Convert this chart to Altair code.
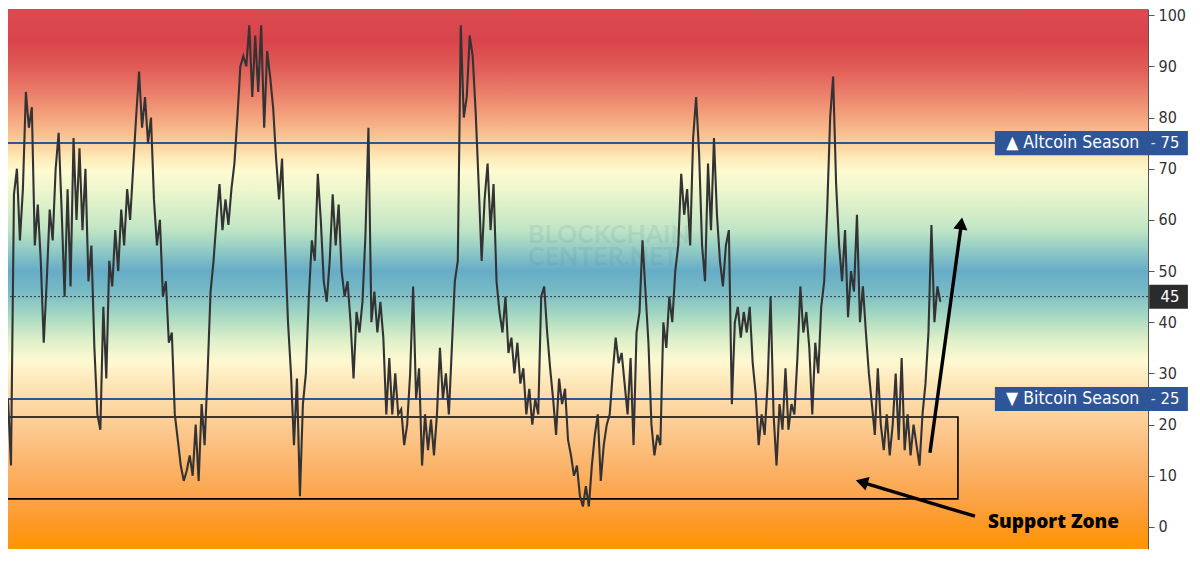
import altair as alt
import pandas as pd

# Altcoin season index readings (sampled left to right)
index_values = [
    25, 12, 65, 70, 56, 66, 85, 78, 82, 55, 63, 52, 36, 48, 62, 56, 70, 77, 62, 45,
    66, 47, 76, 60, 74, 58, 70, 48, 55, 35, 22, 19, 43, 29, 52, 47, 58, 50, 62, 55,
    66, 60, 70, 80, 89, 78, 84, 75, 80, 64, 55, 60, 45, 48, 36, 38, 22, 17, 12, 9,
    11, 14, 10, 20, 9, 24, 16, 30, 46, 52, 60, 67, 58, 64, 59, 66, 71, 80, 90, 92,
    90, 98, 84, 96, 85, 98, 78, 93, 88, 82, 72, 64, 72, 55, 40, 30, 16, 29, 6, 24,
    30, 45, 56, 52, 69, 60, 48, 44, 52, 65, 55, 63, 50, 45, 48, 40, 29, 42, 38, 44,
    57, 78, 40, 46, 38, 44, 37, 22, 33, 22, 30, 22, 23, 16, 20, 30, 47, 25, 31, 12,
    22, 15, 21, 14, 22, 35, 25, 30, 22, 35, 48, 52, 98, 80, 84, 96, 92, 81, 67, 52,
    64, 71, 58, 67, 48, 42, 38, 45, 34, 37, 30, 36, 28, 31, 22, 27, 20, 25, 22, 45,
    47, 38, 31, 25, 18, 29, 24, 27, 17, 14, 10, 12, 6, 4, 8, 4, 12, 18, 22, 9,
    16, 20, 22, 30, 37, 32, 34, 28, 22, 33, 16, 38, 42, 56, 46, 36, 20, 14, 18, 16,
    40, 35, 45, 40, 50, 55, 69, 61, 66, 55, 76, 84, 73, 55, 48, 71, 58, 76, 61, 52,
    47, 55, 58, 24, 40, 43, 37, 42, 38, 43, 32, 26, 16, 22, 18, 28, 45, 22, 12, 24,
    19, 31, 19, 24, 22, 33, 47, 38, 42, 35, 22, 36, 30, 43, 48, 62, 80, 88, 67, 55,
    48, 58, 41, 50, 46, 61, 40, 47, 38, 30, 24, 18, 31, 20, 15, 22, 14, 20, 30, 17,
    33, 15, 22, 14, 20, 16, 12, 22, 28, 38, 59, 40, 47, 44,
]
day_index = list(range(len(index_values)))

# axis ticks and reference levels
tick_values = [0, 10, 20, 30, 40, 50, 60, 70, 80, 90, 100]
season_levels = [75, 25]
season_labels = ["▲ Altcoin Season", "▼ Bitcoin Season"]
current_level = [45]

X_MAX = 382.7
Y_MIN, Y_MAX = -4.3, 101.2
W, H = 1140, 540
FONT = "DejaVu Sans Condensed, DejaVu Sans"

xs = alt.Scale(domain=[0, X_MAX], nice=False, zero=False)
ys = alt.Scale(domain=[Y_MIN, Y_MAX], nice=False, zero=False)


def off(v):
    return round((Y_MAX - v) / (Y_MAX - Y_MIN), 4)


grad_stops = [
    (Y_MAX, "#da4b51"), (95, "#d9444b"), (90, "#e05b56"), (85, "#ea7d69"),
    (80, "#f4a57e"), (76, "#f9c795"), (72, "#fdebb8"), (69.5, "#fefbd2"),
    (64, "#e4f3ca"), (58, "#bfe5c5"), (54, "#90cac5"), (50, "#66acc7"),
    (46, "#78bbc5"), (41, "#a9dac2"), (36.5, "#def0c9"), (32.5, "#fef9d2"),
    (27, "#fde2b2"), (20, "#fccc93"), (12, "#fbb46b"), (5, "#fca245"),
    (0, "#fd9820"), (Y_MIN, "#ff9500"),
]
gradient = alt.Gradient(
    gradient="linear",
    stops=[alt.GradientStop(color=c, offset=off(v)) for v, c in grad_stops],
    x1=0, x2=0, y1=0, y2=1,
)

bg = alt.Chart(pd.DataFrame({"x1": [0], "x2": [X_MAX], "y1": [Y_MAX], "y2": [Y_MIN]})).mark_rect(
    fill=gradient
).encode(
    x=alt.X("x1:Q", scale=xs, axis=None), x2="x2:Q",
    y=alt.Y("y1:Q", scale=ys), y2="y2:Q",
)

series = pd.DataFrame({"i": day_index, "v": index_values})

y_axis = alt.Axis(
    orient="right", values=tick_values, title=None, grid=False,
    tickSize=6, tickColor="#555555", domainColor="#555555",
    labelFont=FONT, labelFontSize=16, labelColor="#333333", labelPadding=4,
)

season_df = pd.DataFrame({"v": season_levels})
season_rules = alt.Chart(season_df).mark_rule(color="#2e5597", strokeWidth=2).encode(
    y=alt.Y("v:Q", scale=ys, axis=y_axis)
)
dotted = alt.Chart(pd.DataFrame({"v": current_level})).mark_rule(
    color="#333333", strokeWidth=1, strokeDash=[2, 2]
).encode(y=alt.Y("v:Q", scale=ys))

zone = alt.Chart(pd.DataFrame({"x1": [-2], "x2": [318.9], "y1": [21.5], "y2": [5.5]})).mark_rect(
    fillOpacity=0, stroke="black", strokeWidth=1.6, clip=True
).encode(
    x=alt.X("x1:Q", scale=xs), x2="x2:Q",
    y=alt.Y("y1:Q", scale=ys), y2="y2:Q",
)

line = alt.Chart(series).mark_line(
    color="#333333", strokeWidth=2.1, clip=True
).encode(x=alt.X("i:Q", scale=xs), y=alt.Y("v:Q", scale=ys))

watermark = alt.Chart(pd.DataFrame({"x": [174.6, 174.6], "y": [57.0, 52.8], "t": ["BLOCKCHAIN", "CENTER.NET"]})).mark_text(
    align="left", baseline="middle", font="Lato", fontWeight="bold", fontSize=25,
    color="#5a7d86", opacity=0.12
).encode(x=alt.X("x:Q", scale=xs), y=alt.Y("y:Q", scale=ys), text="t:N")

arrows = alt.Chart(pd.DataFrame({
    "x1": [309.5, 324.6], "y1": [14.5, 2.1], "x2": [319.9, 287.3], "y2": [58.6, 8.6]
})).mark_rule(color="black", strokeWidth=3.4).encode(
    x=alt.X("x1:Q", scale=xs), y=alt.Y("y1:Q", scale=ys), x2="x2:Q", y2="y2:Q"
)
head1 = alt.Chart(pd.DataFrame({"x": [320.0], "y": [59.3]})).mark_point(
    shape="triangle-up", filled=True, size=200, color="black", opacity=1, angle=7.8
).encode(x=alt.X("x:Q", scale=xs), y=alt.Y("y:Q", scale=ys))
head2 = alt.Chart(pd.DataFrame({"x": [286.6], "y": [8.8]})).mark_point(
    shape="triangle-up", filled=True, size=200, color="black", opacity=1, angle=286.7
).encode(x=alt.X("x:Q", scale=xs), y=alt.Y("y:Q", scale=ys))

support_text = alt.Chart(pd.DataFrame({"x": [351.0], "y": [1.0], "t": ["Support Zone"]})).mark_text(
    align="center", baseline="middle", font="Open Sans", fontWeight=800, fontSize=19, color="black"
).encode(x=alt.X("x:Q", scale=xs), y=alt.Y("y:Q", scale=ys), text="t:N")

boxes = alt.Chart(pd.DataFrame({
    "x1": [331.3, 331.3, 383.1], "x2": [396.1, 396.1, 396.1],
    "y1": [77.35, 27.35, 47.35], "y2": [72.65, 22.65, 42.65],
    "c": ["#2e5597", "#2e5597", "#2b2b2b"],
})).mark_rect().encode(
    x=alt.X("x1:Q", scale=xs), x2="x2:Q", y=alt.Y("y1:Q", scale=ys), y2="y2:Q",
    color=alt.Color("c:N", scale=None),
)

box_names = alt.Chart(pd.DataFrame({"x": [379.8, 379.8], "y": season_levels, "t": season_labels})).mark_text(
    align="right", baseline="middle", font=FONT, fontSize=17.5, color="white"
).encode(x=alt.X("x:Q", scale=xs), y=alt.Y("y:Q", scale=ys), text="t:N")

box_dash = alt.Chart(pd.DataFrame({"x": [384.4, 384.4], "y": season_levels, "t": ["-", "-"]})).mark_text(
    align="center", baseline="middle", font=FONT, fontSize=15, color="#dde4f0"
).encode(x=alt.X("x:Q", scale=xs), y=alt.Y("y:Q", scale=ys), text="t:N")

box_nums = alt.Chart(pd.DataFrame({
    "x": [386.9, 386.9, 386.9], "y": season_levels + current_level,
    "t": [str(v) for v in season_levels + current_level],
})).mark_text(
    align="left", baseline="middle", font=FONT, fontSize=16.5, color="white"
).encode(x=alt.X("x:Q", scale=xs), y=alt.Y("y:Q", scale=ys), text="t:N")

chart = alt.layer(
    bg, season_rules, dotted, zone, watermark, line, arrows, head1, head2,
    support_text, boxes, box_names, box_dash, box_nums
).properties(
    width=W, height=H,
    autosize=alt.AutoSizeParams(type="none"),
    padding={"left": 0, "top": 1, "right": 44, "bottom": 4},
    background="white",
).configure_view(stroke=None)

chart.save("out.html", embed_options={"renderer": "svg", "actions": False})
